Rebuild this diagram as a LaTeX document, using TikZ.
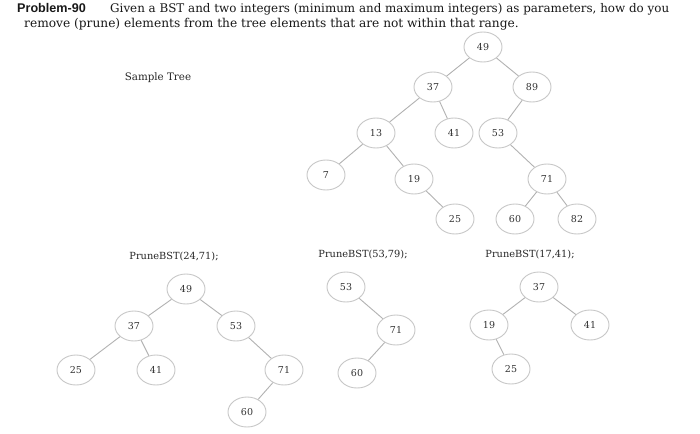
\documentclass[tikz,border=0pt]{standalone}
\usepackage{fontspec}
\setmainfont{DejaVu Serif}
\newfontfamily\probfont{Liberation Sans}
\usetikzlibrary{shapes.geometric}
\begin{document}
\begin{tikzpicture}[x=1pt,y=-1pt,
  tn/.style={ellipse, draw=black!22, line width=0.9pt, minimum width=38pt, minimum height=30pt, inner sep=0pt, font=\fontsize{9.5}{10}\selectfont, text=black!80},
  ed/.style={draw=black!30, line width=0.9pt},
  lbl/.style={font=\fontsize{9.8}{11}\selectfont, text=black!85, inner sep=0pt},
  head/.style={anchor=base west, inner sep=0pt, text=black!90, font=\fontsize{11.9}{13}\selectfont}]
\useasboundingbox[fill=white] (0,0) rectangle (700,433);
% heading
\node[head, font=\probfont\bfseries\fontsize{12.6}{13}\selectfont] (prob) at (17,13) {Problem-90};
\node[head] (line1) at (110,13) {Given a BST and two integers (minimum and maximum integers) as parameters, how do you};
\node[head, font=\fontsize{12.2}{13}\selectfont] (line2) at (24,28) {remove (prune) elements from the tree elements that are not within that range.};
% sample tree
\node[lbl, font=\fontsize{10.3}{11}\selectfont] (stitle) at (158,78) {Sample Tree};
\node[tn] (s49) at (483,47) {49};
\node[tn] (s37) at (433,87) {37};
\node[tn] (s89) at (532,87) {89};
\node[tn] (s13) at (376,133) {13};
\node[tn] (s41) at (454,133) {41};
\node[tn] (s53) at (498,133) {53};
\node[tn] (s7) at (326,175) {7};
\node[tn] (s19) at (414,179) {19};
\node[tn] (s71) at (547,179) {71};
\node[tn] (s25) at (455,219) {25};
\node[tn] (s60) at (515,219) {60};
\node[tn] (s82) at (577,219) {82};
\draw[ed] (s49) -- (s37);
\draw[ed] (s49) -- (s89);
\draw[ed] (s37) -- (s13);
\draw[ed] (s37) -- (s41);
\draw[ed] (s89) -- (s53);
\draw[ed] (s13) -- (s7);
\draw[ed] (s13) -- (s19);
\draw[ed] (s19) -- (s25);
\draw[ed] (s53) -- (s71);
\draw[ed] (s71) -- (s60);
\draw[ed] (s71) -- (s82);
% PruneBST(24,71)
\node[lbl] (atitle) at (174,257) {PruneBST(24,71);};
\node[tn] (a49) at (186,289) {49};
\node[tn] (a37) at (134,326) {37};
\node[tn] (a53) at (236,326) {53};
\node[tn] (a25) at (76,370) {25};
\node[tn] (a41) at (156,370) {41};
\node[tn] (a71) at (284,370) {71};
\node[tn] (a60) at (247,412) {60};
\draw[ed] (a49) -- (a37);
\draw[ed] (a49) -- (a53);
\draw[ed] (a37) -- (a25);
\draw[ed] (a37) -- (a41);
\draw[ed] (a53) -- (a71);
\draw[ed] (a71) -- (a60);
% PruneBST(53,79)
\node[lbl] (btitle) at (363,255) {PruneBST(53,79);};
\node[tn] (b53) at (346,287) {53};
\node[tn] (b71) at (396,330) {71};
\node[tn] (b60) at (357,373) {60};
\draw[ed] (b53) -- (b71);
\draw[ed] (b71) -- (b60);
% PruneBST(17,41)
\node[lbl] (ctitle) at (530,255) {PruneBST(17,41);};
\node[tn] (c37) at (539,287) {37};
\node[tn] (c19) at (489,325) {19};
\node[tn] (c41) at (590,325) {41};
\node[tn] (c25) at (511,369) {25};
\draw[ed] (c37) -- (c19);
\draw[ed] (c37) -- (c41);
\draw[ed] (c19) -- (c25);
\end{tikzpicture}
\end{document}
